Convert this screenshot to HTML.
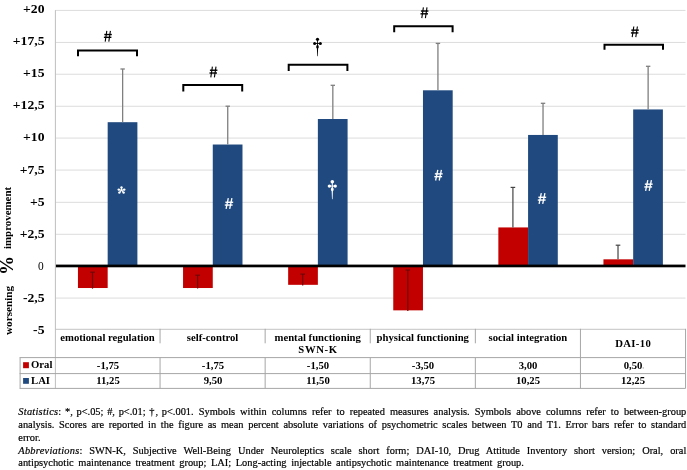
<!DOCTYPE html>
<html><head><meta charset="utf-8"><style>
*{margin:0;padding:0;box-sizing:border-box}
html,body{width:687px;height:470px;background:#fff;overflow:hidden}
body{position:relative;font-family:"Liberation Serif",serif;color:#000;-webkit-font-smoothing:antialiased}
#wrap{position:absolute;left:0;top:0;width:687px;height:470px;will-change:transform}
svg{position:absolute;left:0;top:0}
.yl{position:absolute;left:0;width:44.5px;text-align:right;font-weight:bold;font-size:12.8px;line-height:16px;transform-origin:100% 50%;transform:scaleX(1.067)}
.cat{position:absolute;width:110px;text-align:center;font-weight:bold;font-size:10.7px;line-height:13px;white-space:nowrap}
.val{position:absolute;width:80px;text-align:center;font-weight:bold;font-size:11.4px;line-height:13px;transform:scaleX(0.94)}
.leg{position:absolute;font-weight:bold;font-size:11.4px;line-height:13px;transform-origin:0 50%;transform:scaleX(0.94)}
.rot{position:absolute;font-weight:bold;white-space:nowrap;transform-origin:0 0;transform:rotate(-90deg)}
.fn{position:absolute;left:18.3px;width:668px;font-size:10.4px;line-height:13px;white-space:nowrap;-webkit-text-stroke:0.2px #000}
.fn i{letter-spacing:0.25px}
.fn.j{text-align:justify;text-align-last:justify}
</style></head><body><div id="wrap">
<svg width="687" height="470" viewBox="0 0 687 470">
<line x1="55.4" y1="10.40" x2="685.5" y2="10.40" stroke="#dcdcdc" stroke-width="1"/>
<line x1="55.4" y1="42.44" x2="685.5" y2="42.44" stroke="#dcdcdc" stroke-width="1"/>
<line x1="55.4" y1="74.24" x2="685.5" y2="74.24" stroke="#dcdcdc" stroke-width="1"/>
<line x1="55.4" y1="106.27" x2="685.5" y2="106.27" stroke="#dcdcdc" stroke-width="1"/>
<line x1="55.4" y1="138.07" x2="685.5" y2="138.07" stroke="#dcdcdc" stroke-width="1"/>
<line x1="55.4" y1="170.07" x2="685.5" y2="170.07" stroke="#dcdcdc" stroke-width="1"/>
<line x1="55.4" y1="202.34" x2="685.5" y2="202.34" stroke="#dcdcdc" stroke-width="1"/>
<line x1="55.4" y1="234.30" x2="685.5" y2="234.30" stroke="#dcdcdc" stroke-width="1"/>
<line x1="55.4" y1="298.07" x2="685.5" y2="298.07" stroke="#dcdcdc" stroke-width="1"/>
<line x1="55.4" y1="329.3" x2="685.5" y2="329.3" stroke="#c4c4c4" stroke-width="1"/>
<rect x="77.95" y="265.70" width="29.72" height="22.32" fill="#c30000"/>
<rect x="107.67" y="122.19" width="29.72" height="143.50" fill="#204a7f"/>
<rect x="183.05" y="265.70" width="29.72" height="22.32" fill="#c30000"/>
<rect x="212.77" y="144.52" width="29.72" height="121.18" fill="#204a7f"/>
<rect x="288.15" y="265.70" width="29.72" height="19.13" fill="#c30000"/>
<rect x="317.87" y="119.01" width="29.72" height="146.69" fill="#204a7f"/>
<rect x="393.25" y="265.70" width="29.72" height="44.65" fill="#c30000"/>
<rect x="422.97" y="90.30" width="29.72" height="175.40" fill="#204a7f"/>
<rect x="498.35" y="227.43" width="29.72" height="38.27" fill="#c30000"/>
<rect x="528.07" y="134.95" width="29.72" height="130.75" fill="#204a7f"/>
<rect x="603.45" y="259.32" width="29.72" height="6.38" fill="#c30000"/>
<rect x="633.17" y="109.44" width="29.72" height="156.26" fill="#204a7f"/>
<line x1="122.63" y1="69.0" x2="122.63" y2="122.19" stroke="#7f7f7f" stroke-width="1.3"/>
<line x1="120.43" y1="69.0" x2="124.83" y2="69.0" stroke="#7f7f7f" stroke-width="1.3"/>
<line x1="92.51" y1="272.2" x2="92.51" y2="288.62" stroke="#6e0808" stroke-width="1.2"/>
<line x1="90.21" y1="272.2" x2="94.81" y2="272.2" stroke="#6e0808" stroke-width="1.2"/>
<line x1="227.73" y1="106.2" x2="227.73" y2="144.52" stroke="#7f7f7f" stroke-width="1.3"/>
<line x1="225.53" y1="106.2" x2="229.93" y2="106.2" stroke="#7f7f7f" stroke-width="1.3"/>
<line x1="197.61" y1="275.2" x2="197.61" y2="288.62" stroke="#6e0808" stroke-width="1.2"/>
<line x1="195.31" y1="275.2" x2="199.91" y2="275.2" stroke="#6e0808" stroke-width="1.2"/>
<line x1="332.83" y1="85.3" x2="332.83" y2="119.01" stroke="#7f7f7f" stroke-width="1.3"/>
<line x1="330.63" y1="85.3" x2="335.03" y2="85.3" stroke="#7f7f7f" stroke-width="1.3"/>
<line x1="302.71" y1="274.1" x2="302.71" y2="285.43" stroke="#6e0808" stroke-width="1.2"/>
<line x1="300.41" y1="274.1" x2="305.01" y2="274.1" stroke="#6e0808" stroke-width="1.2"/>
<line x1="437.93" y1="43.4" x2="437.93" y2="90.30" stroke="#7f7f7f" stroke-width="1.3"/>
<line x1="435.73" y1="43.4" x2="440.13" y2="43.4" stroke="#7f7f7f" stroke-width="1.3"/>
<line x1="407.81" y1="270.0" x2="407.81" y2="310.95" stroke="#6e0808" stroke-width="1.2"/>
<line x1="405.51" y1="270.0" x2="410.11" y2="270.0" stroke="#6e0808" stroke-width="1.2"/>
<line x1="543.03" y1="103.3" x2="543.03" y2="134.95" stroke="#7f7f7f" stroke-width="1.3"/>
<line x1="540.83" y1="103.3" x2="545.23" y2="103.3" stroke="#7f7f7f" stroke-width="1.3"/>
<line x1="512.91" y1="187.4" x2="512.91" y2="227.43" stroke="#444" stroke-width="1.2"/>
<line x1="510.61" y1="187.4" x2="515.21" y2="187.4" stroke="#444" stroke-width="1.2"/>
<line x1="648.13" y1="66.3" x2="648.13" y2="109.44" stroke="#7f7f7f" stroke-width="1.3"/>
<line x1="645.93" y1="66.3" x2="650.33" y2="66.3" stroke="#7f7f7f" stroke-width="1.3"/>
<line x1="618.01" y1="245.2" x2="618.01" y2="259.32" stroke="#444" stroke-width="1.2"/>
<line x1="615.71" y1="245.2" x2="620.31" y2="245.2" stroke="#444" stroke-width="1.2"/>
<rect x="55.4" y="264.6" width="630.1" height="2.7" fill="#000"/>
<line x1="55.4" y1="10.1" x2="55.4" y2="388.6" stroke="#bfbfbf" stroke-width="1"/>
<path d="M78.00 56.30 V50.40 H137.00 V56.30" fill="none" stroke="#000" stroke-width="2"/>
<path d="M183.30 91.40 V85.00 H242.20 V91.40" fill="none" stroke="#000" stroke-width="2"/>
<path d="M288.70 70.90 V64.70 H347.40 V70.90" fill="none" stroke="#000" stroke-width="2"/>
<path d="M394.20 32.30 V26.20 H452.60 V32.30" fill="none" stroke="#000" stroke-width="2"/>
<path d="M604.50 49.80 V44.80 H663.00 V49.80" fill="none" stroke="#000" stroke-width="2"/>
<line x1="19.6" y1="357.6" x2="685.5" y2="357.6" stroke="#a6a6a6" stroke-width="1"/>
<line x1="19.6" y1="373.6" x2="685.5" y2="373.6" stroke="#a6a6a6" stroke-width="1"/>
<line x1="19.6" y1="388.4" x2="685.5" y2="388.4" stroke="#a6a6a6" stroke-width="1"/>
<line x1="20.1" y1="357.6" x2="20.1" y2="388.4" stroke="#a6a6a6" stroke-width="1"/>
<line x1="160.05" y1="328.8" x2="160.05" y2="343.3" stroke="#a6a6a6" stroke-width="1"/>
<line x1="160.05" y1="357.6" x2="160.05" y2="388.4" stroke="#a6a6a6" stroke-width="1"/>
<line x1="265.15" y1="328.8" x2="265.15" y2="343.3" stroke="#a6a6a6" stroke-width="1"/>
<line x1="265.15" y1="357.6" x2="265.15" y2="388.4" stroke="#a6a6a6" stroke-width="1"/>
<line x1="370.25" y1="328.8" x2="370.25" y2="343.3" stroke="#a6a6a6" stroke-width="1"/>
<line x1="370.25" y1="357.6" x2="370.25" y2="388.4" stroke="#a6a6a6" stroke-width="1"/>
<line x1="475.35" y1="328.8" x2="475.35" y2="343.3" stroke="#a6a6a6" stroke-width="1"/>
<line x1="475.35" y1="357.6" x2="475.35" y2="388.4" stroke="#a6a6a6" stroke-width="1"/>
<line x1="580.45" y1="328.8" x2="580.45" y2="388.4" stroke="#a6a6a6" stroke-width="1"/>
<line x1="685.55" y1="328.8" x2="685.55" y2="388.4" stroke="#a6a6a6" stroke-width="1"/>
<rect x="642.7" y="367.4" width="1.1" height="1.1" fill="#999"/>
<rect x="23.1" y="362.2" width="5.8" height="6" fill="#c30000"/>
<rect x="23.1" y="378" width="5.8" height="5.8" fill="#204a7f"/>
<circle cx="317.50" cy="39.30" r="1.60" fill="#000"/><circle cx="314.65" cy="43.50" r="1.50" fill="#000"/><circle cx="320.35" cy="43.50" r="1.50" fill="#000"/><rect x="317.05" y="39.30" width="0.90" height="6.50" fill="#000"/><rect x="314.50" y="43.05" width="6.00" height="0.90" fill="#000"/><path d="M317.50 44.40 C319.10 45.80 319.10 47.40 318.10 48.60 L317.80 56.10 Q317.50 56.60 317.20 56.10 L316.90 48.60 C315.90 47.40 315.90 45.80 317.50 44.40Z" fill="#000"/>
<circle cx="332.30" cy="181.74" r="1.78" fill="#fff"/><circle cx="329.36" cy="186.07" r="1.67" fill="#fff"/><circle cx="335.24" cy="186.07" r="1.67" fill="#fff"/><rect x="331.80" y="181.74" width="1.00" height="6.70" fill="#fff"/><rect x="329.21" y="185.57" width="6.18" height="1.00" fill="#fff"/><path d="M332.30 187.00 C334.08 188.44 334.08 190.09 332.92 191.32 L332.61 199.05 Q332.30 199.56 331.99 199.05 L331.68 191.32 C330.52 190.09 330.52 188.44 332.30 187.00Z" fill="#fff"/>
<line x1="106.80" y1="30.90" x2="105.20" y2="41.60" stroke="#000" stroke-width="1.1"/><line x1="110.40" y1="30.90" x2="108.80" y2="41.60" stroke="#000" stroke-width="1.1"/><line x1="104.31" y1="34.54" x2="111.81" y2="34.54" stroke="#000" stroke-width="1.4"/><line x1="103.89" y1="37.32" x2="111.39" y2="37.32" stroke="#000" stroke-width="1.4"/>
<line x1="212.40" y1="66.60" x2="210.80" y2="77.30" stroke="#000" stroke-width="1.1"/><line x1="216.00" y1="66.60" x2="214.40" y2="77.30" stroke="#000" stroke-width="1.1"/><line x1="209.91" y1="70.24" x2="217.41" y2="70.24" stroke="#000" stroke-width="1.4"/><line x1="209.49" y1="73.02" x2="216.99" y2="73.02" stroke="#000" stroke-width="1.4"/>
<line x1="423.40" y1="7.40" x2="421.80" y2="18.10" stroke="#000" stroke-width="1.1"/><line x1="427.00" y1="7.40" x2="425.40" y2="18.10" stroke="#000" stroke-width="1.1"/><line x1="420.91" y1="11.04" x2="428.41" y2="11.04" stroke="#000" stroke-width="1.4"/><line x1="420.49" y1="13.82" x2="427.99" y2="13.82" stroke="#000" stroke-width="1.4"/>
<line x1="633.80" y1="26.50" x2="632.20" y2="37.20" stroke="#000" stroke-width="1.1"/><line x1="637.40" y1="26.50" x2="635.80" y2="37.20" stroke="#000" stroke-width="1.1"/><line x1="631.31" y1="30.14" x2="638.81" y2="30.14" stroke="#000" stroke-width="1.4"/><line x1="630.89" y1="32.92" x2="638.39" y2="32.92" stroke="#000" stroke-width="1.4"/>
<line x1="228.30" y1="198.20" x2="226.10" y2="208.90" stroke="#fff" stroke-width="1.3"/><line x1="231.90" y1="198.20" x2="229.70" y2="208.90" stroke="#fff" stroke-width="1.3"/><line x1="225.36" y1="202.27" x2="233.16" y2="202.27" stroke="#fff" stroke-width="1.4"/><line x1="224.79" y1="205.05" x2="232.59" y2="205.05" stroke="#fff" stroke-width="1.4"/>
<line x1="437.80" y1="169.80" x2="435.60" y2="180.50" stroke="#fff" stroke-width="1.3"/><line x1="441.40" y1="169.80" x2="439.20" y2="180.50" stroke="#fff" stroke-width="1.3"/><line x1="434.86" y1="173.87" x2="442.66" y2="173.87" stroke="#fff" stroke-width="1.4"/><line x1="434.29" y1="176.65" x2="442.09" y2="176.65" stroke="#fff" stroke-width="1.4"/>
<line x1="541.30" y1="193.20" x2="539.10" y2="203.90" stroke="#fff" stroke-width="1.3"/><line x1="544.90" y1="193.20" x2="542.70" y2="203.90" stroke="#fff" stroke-width="1.3"/><line x1="538.36" y1="197.27" x2="546.16" y2="197.27" stroke="#fff" stroke-width="1.4"/><line x1="537.79" y1="200.05" x2="545.59" y2="200.05" stroke="#fff" stroke-width="1.4"/>
<line x1="647.80" y1="180.10" x2="645.60" y2="190.80" stroke="#fff" stroke-width="1.3"/><line x1="651.40" y1="180.10" x2="649.20" y2="190.80" stroke="#fff" stroke-width="1.3"/><line x1="644.86" y1="184.17" x2="652.66" y2="184.17" stroke="#fff" stroke-width="1.4"/><line x1="644.29" y1="186.95" x2="652.09" y2="186.95" stroke="#fff" stroke-width="1.4"/>
<line x1="121.50" y1="190.20" x2="121.50" y2="187.40" stroke="#fff" stroke-width="1.1"/><circle cx="121.50" cy="187.40" r="1.2" fill="#fff"/><line x1="121.50" y1="190.20" x2="124.24" y2="189.62" stroke="#fff" stroke-width="1.1"/><circle cx="124.24" cy="189.62" r="1.2" fill="#fff"/><line x1="121.50" y1="190.20" x2="123.64" y2="192.58" stroke="#fff" stroke-width="1.1"/><circle cx="123.64" cy="192.58" r="1.2" fill="#fff"/><line x1="121.50" y1="190.20" x2="119.36" y2="192.58" stroke="#fff" stroke-width="1.1"/><circle cx="119.36" cy="192.58" r="1.2" fill="#fff"/><line x1="121.50" y1="190.20" x2="118.76" y2="189.62" stroke="#fff" stroke-width="1.1"/><circle cx="118.76" cy="189.62" r="1.2" fill="#fff"/>
</svg>
<div class="yl" style="top:1.05px">+20</div>
<div class="yl" style="top:33.15px">+17,5</div>
<div class="yl" style="top:65.25px">+15</div>
<div class="yl" style="top:97.35px">+12,5</div>
<div class="yl" style="top:129.45px">+10</div>
<div class="yl" style="top:161.55px">+7,5</div>
<div class="yl" style="top:193.65px">+5</div>
<div class="yl" style="top:225.75px">+2,5</div>
<div class="yl" style="top:257.85px;font-weight:normal;font-size:12.4px;transform:scaleX(0.92);width:43.6px">0</div>
<div class="yl" style="top:289.95px">-2,5</div>
<div class="yl" style="top:322.05px">-5</div>

<div class="cat" style="left:52.50px;top:331.2px">emotional regulation</div>
<div class="cat" style="left:157.60px;top:331.2px">self-control</div>
<div class="cat" style="left:262.70px;top:331.2px">mental functioning</div>
<div class="cat" style="left:367.80px;top:331.2px">physical functioning</div>
<div class="cat" style="left:472.90px;top:331.2px">social integration</div>
<div class="cat" style="left:578.00px;top:336.8px;letter-spacing:0.35px;text-indent:0.35px">DAI-10</div>
<div class="cat" style="left:262.70px;top:342.6px;letter-spacing:0.6px;text-indent:0.6px">SWN-K</div>

<div class="val" style="left:67.50px;top:358.85px">-1,75</div>
<div class="val" style="left:67.50px;top:374.05px">11,25</div>
<div class="val" style="left:172.60px;top:358.85px">-1,75</div>
<div class="val" style="left:172.60px;top:374.05px">9,50</div>
<div class="val" style="left:277.70px;top:358.85px">-1,50</div>
<div class="val" style="left:277.70px;top:374.05px">11,50</div>
<div class="val" style="left:382.80px;top:358.85px">-3,50</div>
<div class="val" style="left:382.80px;top:374.05px">13,75</div>
<div class="val" style="left:487.90px;top:358.85px">3,00</div>
<div class="val" style="left:487.90px;top:374.05px">10,25</div>
<div class="val" style="left:593.00px;top:358.85px">0,50</div>
<div class="val" style="left:593.00px;top:374.05px">12,25</div>


<div class="leg" style="left:30.9px;top:358.3px">Oral</div>
<div class="leg" style="left:31.2px;top:374.3px">LAI</div>
<div class="rot" style="left:1.3px;top:248.6px;font-size:10.9px;line-height:12px">improvement</div>
<div class="rot" style="left:-1.5px;top:274.9px;font-size:19px;line-height:16px">%</div>
<div class="rot" style="left:1.8px;top:334.8px;font-size:11.2px;line-height:12px">worsening</div>
<div class="fn j" style="top:405px"><span style="word-spacing:-1.3px"><i>Statistics</i>: *, p&lt;.05; #, p&lt;.01; <span style="letter-spacing:-1.5px">&dagger;</span>, p&lt;.001.</span> Symbols within columns refer to repeated measures analysis. Symbols above columns refer to between-group</div>
<div class="fn j" style="top:418px">analysis. Scores are reported in the figure as mean percent absolute variations of psychometric scales between T0 and T1. Error bars refer to standard</div>
<div class="fn" style="top:431px">error.</div>
<div class="fn j" style="top:444px"><i>Abbreviations</i>: SWN-K, Subjective Well-Being Under Neuroleptics scale short form; DAI-10, Drug Attitude Inventory short version; Oral, oral</div>
<div class="fn" style="top:456px;word-spacing:2px">antipsychotic maintenance treatment group; LAI; Long-acting injectable antipsychotic maintenance treatment group.</div>
</div></body></html>
